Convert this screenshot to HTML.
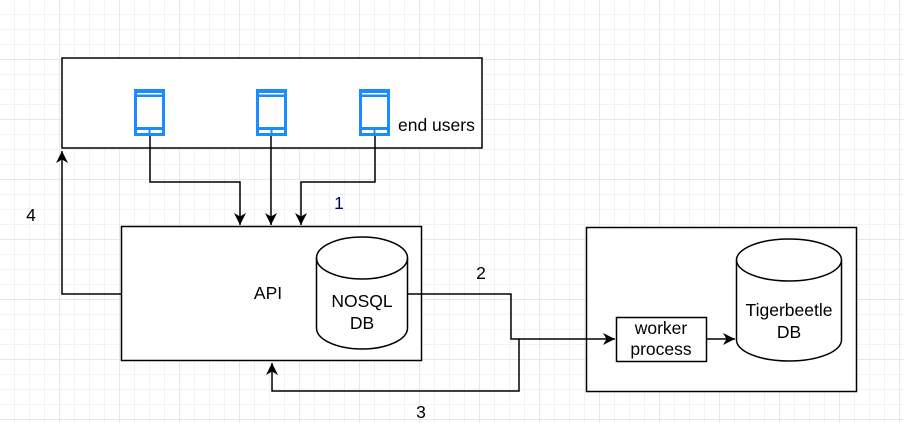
<!DOCTYPE html>
<html><head><style>
html,body{margin:0;padding:0;background:#fff}
svg{display:block}
text{font-family:"Liberation Sans",sans-serif;font-size:17.5px}
</style></head><body>
<svg width="904" height="423" xmlns="http://www.w3.org/2000/svg">
<defs>
<pattern id="mn" width="15" height="15" patternUnits="userSpaceOnUse"><path d="M15 0V15M0 15H15" stroke="#f2f2f2" stroke-width="1" fill="none" transform="translate(-0.5,-0.5)"/></pattern>
<pattern id="mj" width="60" height="60" patternUnits="userSpaceOnUse"><path d="M60.5 0V60M0 60.5H60" stroke="#dcdcdc" stroke-width="1" fill="none" transform="translate(-0.5,-0.5)"/></pattern>
<marker id="ar" markerWidth="14" markerHeight="14" refX="12" refY="7" orient="auto" markerUnits="userSpaceOnUse"><path d="M0,1 L12,7 L0,13 L3.5,7 Z" fill="#000"/></marker>
<g id="ph">
<rect x="0" y="0" width="31" height="47" fill="#1a8cff"/>
<rect x="3" y="4" width="25" height="1.5" fill="#fff"/>
<rect x="3" y="8" width="25" height="30" fill="#fff"/>
<rect x="3" y="41" width="11.5" height="3" fill="#fff"/>
<rect x="16.5" y="41" width="11.5" height="3" fill="#fff"/>
</g>
</defs>
<rect width="904" height="423" fill="url(#mn)"/>
<rect width="904" height="423" fill="url(#mj)"/>
<g fill="none" stroke="#000" stroke-width="1.5">
<rect x="62" y="58" width="420" height="90" fill="#fff"/>
<rect x="121.5" y="226.5" width="300" height="134" fill="#fff"/>
<rect x="586.5" y="227.5" width="270" height="164" fill="#fff"/>
<rect x="616.5" y="317.5" width="90" height="44" fill="#fff"/>
<path d="M316.5,258 a45.5,21 0 0 1 91,0 v70 a45.5,21 0 0 1 -91,0 Z" fill="#fff"/>
<path d="M316.5,258 a45.5,21 0 0 0 91,0"/>
<path d="M736.5,260 a52.5,21 0 0 1 105,0 v80 a52.5,21 0 0 1 -105,0 Z" fill="#fff"/>
<path d="M736.5,260 a52.5,21 0 0 0 105,0"/>
<path d="M150,136 V182 H240 V225" marker-end="url(#ar)"/>
<path d="M271,136 V225" marker-end="url(#ar)"/>
<path d="M375,136 V182 H301 V225" marker-end="url(#ar)"/>
<path d="M407,294 H511 V339 H615" marker-end="url(#ar)"/>
<path d="M519,339 V391 H272 V363" marker-end="url(#ar)"/>
<path d="M121,294 H62 V151" marker-end="url(#ar)"/>
<path d="M706,339 H735" marker-end="url(#ar)"/>
</g>
<use href="#ph" x="134" y="89"/>
<use href="#ph" x="256" y="89"/>
<use href="#ph" x="359" y="89"/>
<text x="398" y="131">end users</text>
<text x="268" y="299" text-anchor="middle">API</text>
<text x="362" y="307" text-anchor="middle">NOSQL</text>
<text x="362" y="329" text-anchor="middle">DB</text>
<text x="661" y="334" text-anchor="middle">worker</text>
<text x="661" y="355" text-anchor="middle">process</text>
<text x="789" y="316" text-anchor="middle">Tigerbeetle</text>
<text x="789" y="338" text-anchor="middle">DB</text>
<text x="339" y="209" text-anchor="middle" fill="#000066">1</text>
<text x="481" y="279" text-anchor="middle">2</text>
<text x="421" y="418" text-anchor="middle">3</text>
<text x="31" y="221" text-anchor="middle">4</text>
</svg>
</body></html>
